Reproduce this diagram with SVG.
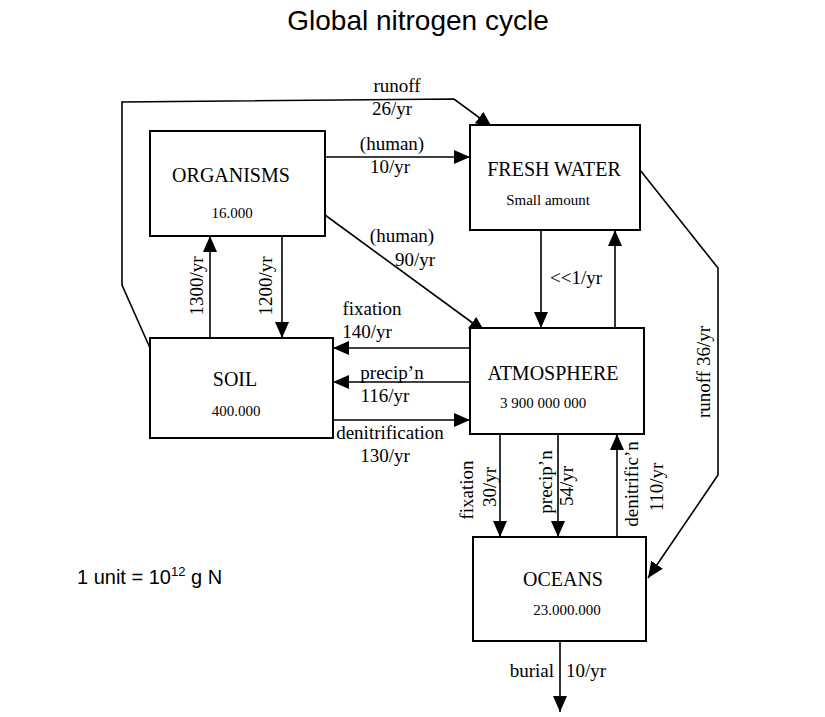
<svg xmlns="http://www.w3.org/2000/svg" width="825" height="717" viewBox="0 0 825 717">
<defs>
<marker id="b" markerWidth="16" markerHeight="16" refX="16" refY="8" orient="auto" markerUnits="userSpaceOnUse" viewBox="0 0 16 16"><path d="M0,1L16,8L0,15Z" fill="#000"/></marker>
</defs>
<style>
.box{fill:#fff;stroke:#000;stroke-width:2}
.t{font-family:"Liberation Serif",serif;font-size:20px;fill:#000}
.n{font-family:"Liberation Serif",serif;font-size:15px;fill:#000}
.l{font-family:"Liberation Serif",serif;font-size:19px;fill:#000}
.c{fill:none;stroke:#000;stroke-width:1.6;marker-end:url(#b)}
</style>
<rect width="825" height="717" fill="#fff"/>
<text x="418" y="30" font-family="Liberation Sans,Arial,sans-serif" font-size="28" text-anchor="middle">Global nitrogen cycle</text>
<text x="77" y="584" font-family="Liberation Sans,Arial,sans-serif" font-size="20">1 unit = 10<tspan font-size="13" dy="-8">12</tspan><tspan dy="8"> g N</tspan></text>
<g id="connectors">
<path class="c" d="M150,348L122,285L122,102L454,99L492,127"/>
<path class="c" d="M325,157L470,157"/>
<path class="c" d="M325,215L485,332"/>
<path class="c" d="M210,338L210,236"/>
<path class="c" d="M282,236L282,338"/>
<path class="c" d="M541,230L541,328"/>
<path class="c" d="M615,328L615,230"/>
<path class="c" d="M470,348L333,348"/>
<path class="c" d="M470,382L333,382"/>
<path class="c" d="M333,420L470,420"/>
<path class="c" d="M500,434L500,537"/>
<path class="c" d="M558,434L558,537"/>
<path class="c" d="M617,537L617,434"/>
<path class="c" d="M640,170L718,268L718,475L648,578"/>
<path class="c" d="M560,641L560,712"/>
<text class="l" x="397" y="92" text-anchor="middle">runoff</text>
<text class="l" x="392" y="115" text-anchor="middle">26/yr</text>
<text class="l" x="392" y="150" text-anchor="middle">(human)</text>
<text class="l" x="390" y="173" text-anchor="middle">10/yr</text>
<text class="l" x="402" y="242" text-anchor="middle">(human)</text>
<text class="l" x="415" y="266" text-anchor="middle">90/yr</text>
<text class="l" x="197" y="286" text-anchor="middle" transform="rotate(-90 197 286)" dy="6">1300/yr</text>
<text class="l" x="266" y="286" text-anchor="middle" transform="rotate(-90 266 286)" dy="6">1200/yr</text>
<text class="l" x="576" y="284" text-anchor="middle">&lt;&lt;1/yr</text>
<text class="l" x="372" y="315" text-anchor="middle">fixation</text>
<text class="l" x="367" y="338" text-anchor="middle">140/yr</text>
<text class="l" x="392" y="379" text-anchor="middle">precip’n</text>
<text class="l" x="385" y="402" text-anchor="middle">116/yr</text>
<text class="l" x="390" y="439" text-anchor="middle">denitrification</text>
<text class="l" x="385" y="462" text-anchor="middle">130/yr</text>
<text class="l" x="467" y="490" text-anchor="middle" transform="rotate(-90 467 490)" dy="6">fixation</text>
<text class="l" x="490" y="487" text-anchor="middle" transform="rotate(-90 490 487)" dy="6">30/yr</text>
<text class="l" x="546" y="482" text-anchor="middle" transform="rotate(-90 546 482)" dy="6">precip’n</text>
<text class="l" x="567" y="486" text-anchor="middle" transform="rotate(-90 567 486)" dy="6">54/yr</text>
<text class="l" x="632" y="484" text-anchor="middle" transform="rotate(-90 632 484)" dy="6">denitrific’n</text>
<text class="l" x="657" y="487" text-anchor="middle" transform="rotate(-90 657 487)" dy="6">110/yr</text>
<text class="l" x="704" y="372" text-anchor="middle" transform="rotate(-90 704 372)" dy="6">runoff 36/yr</text>
<text class="l" x="554" y="677" text-anchor="end">burial</text>
<text class="l" x="566" y="677">10/yr</text>
</g>
<g id="organisms"><rect class="box" x="150" y="131" width="175" height="105"/><text class="t" x="231" y="182" text-anchor="middle">ORGANISMS</text><text class="n" x="232" y="218" text-anchor="middle">16.000</text></g>
<g id="freshwater"><rect class="box" x="470" y="125" width="170" height="105"/><text class="t" x="554" y="176" text-anchor="middle">FRESH WATER</text><text class="n" x="548" y="205" text-anchor="middle">Small amount</text></g>
<g id="soil"><rect class="box" x="150" y="338" width="183" height="100"/><text class="t" x="235" y="386" text-anchor="middle">SOIL</text><text class="n" x="236" y="416" text-anchor="middle">400.000</text></g>
<g id="atmosphere"><rect class="box" x="470" y="328" width="174" height="106"/><text class="t" x="553" y="380" text-anchor="middle">ATMOSPHERE</text><text class="n" x="543" y="408" text-anchor="middle">3 900 000 000</text></g>
<g id="oceans"><rect class="box" x="473" y="537" width="173" height="104"/><text class="t" x="563" y="586" text-anchor="middle">OCEANS</text><text class="n" x="567" y="615" text-anchor="middle">23.000.000</text></g>
</svg>
